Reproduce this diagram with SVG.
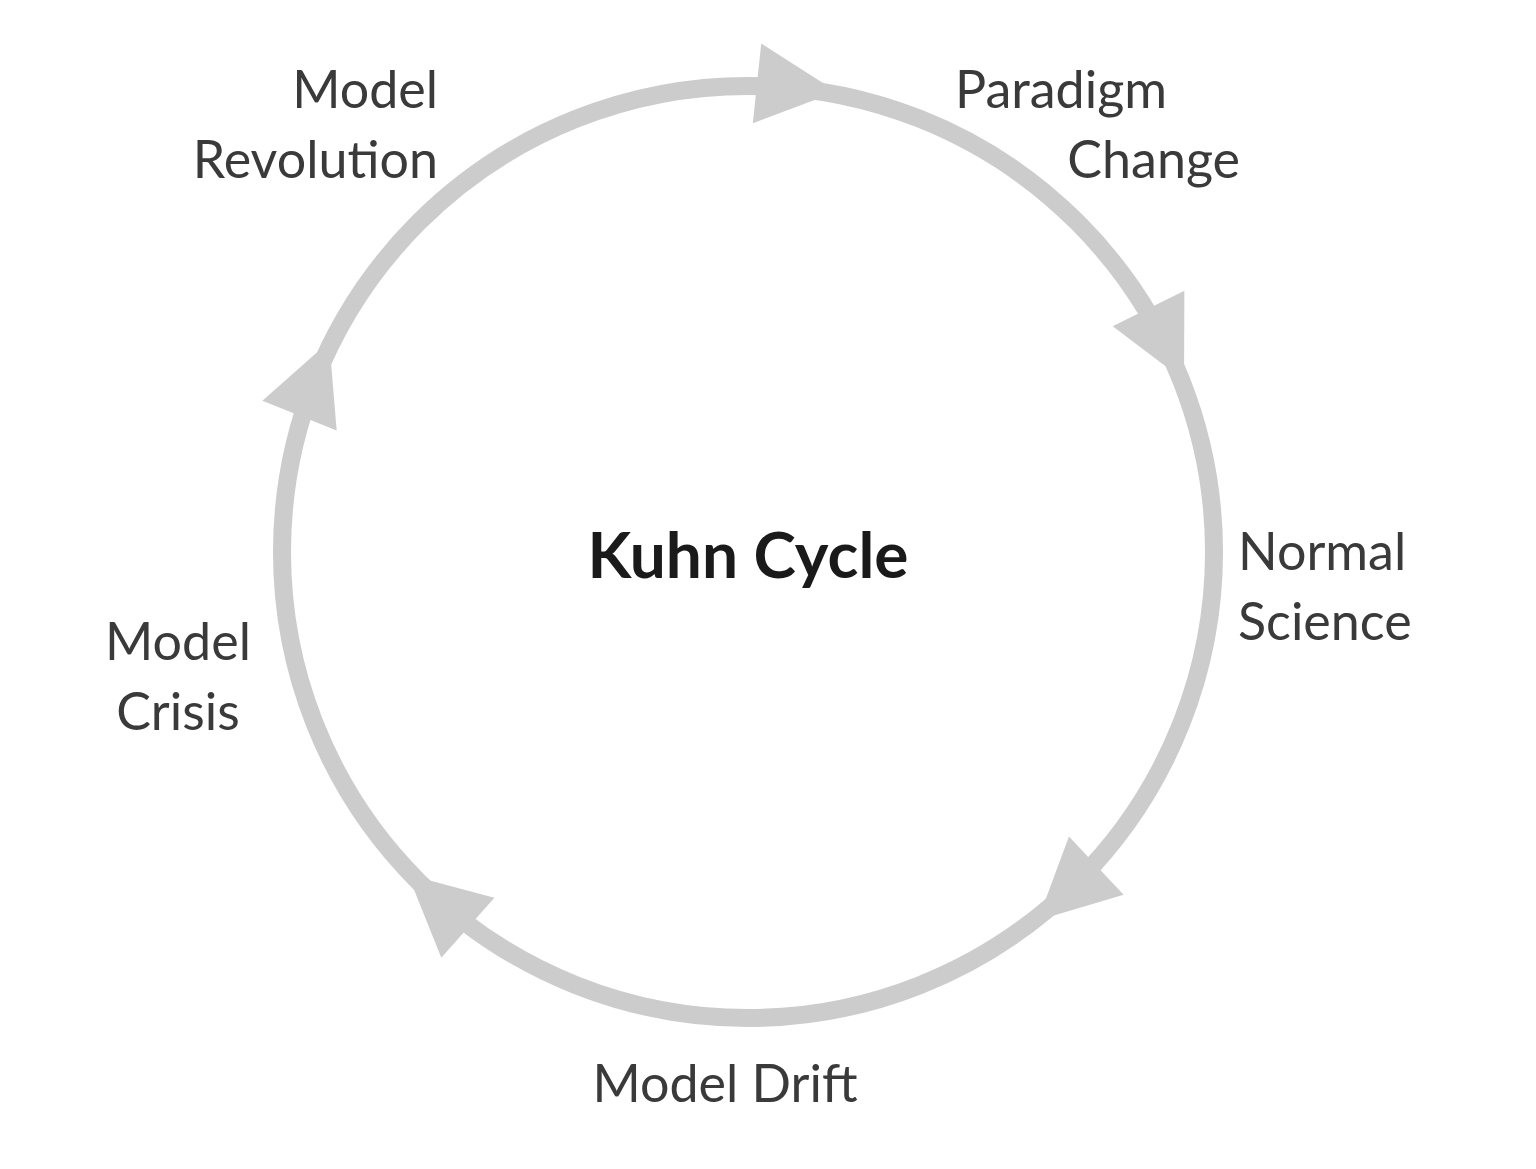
<svg xmlns="http://www.w3.org/2000/svg" width="1536" height="1169" viewBox="0 0 1536 1169">
<style>
.lbl{font-family:Lato,"Liberation Sans",sans-serif;font-size:52px;fill:#3a3a3a}
.title{font-family:Lato,"Liberation Sans",sans-serif;font-size:64px;font-weight:bold;fill:#1a1a1a}
.ah{fill:#cccccc}
</style>
<defs><polygon id="head" points="788,85 708,45 708,125"/></defs>
<rect width="1536" height="1169" fill="#fff"/>
<g id="connectors">
<circle cx="748" cy="552" r="466" fill="none" stroke="#cccccc" stroke-width="18"/>
<use href="#head" class="ah" transform="rotate(6 748 552)"/>
<use href="#head" class="ah" transform="rotate(63.6 748 552)"/>
<use href="#head" class="ah" transform="rotate(136.9 748 552)"/>
<use href="#head" class="ah" transform="rotate(221.6 748 552)"/>
<use href="#head" class="ah" transform="rotate(291.8 748 552)"/>
</g>
<g id="title"><text class="title" x="748" y="578" text-anchor="middle">Kuhn Cycle</text></g>
<g id="revolution"><text class="lbl" x="438" y="108" text-anchor="end">Model</text><text class="lbl" x="438" y="178" text-anchor="end">Revolution</text></g>
<g id="paradigm"><text class="lbl" x="955" y="108">Paradigm</text><text class="lbl" x="1240" y="178" text-anchor="end">Change</text></g>
<g id="normal"><text class="lbl" x="1238" y="570">Normal</text><text class="lbl" x="1238" y="640">Science</text></g>
<g id="crisis"><text class="lbl" x="178" y="660" text-anchor="middle">Model</text><text class="lbl" x="178" y="730" text-anchor="middle">Crisis</text></g>
<g id="drift"><text class="lbl" x="725" y="1102" text-anchor="middle">Model Drift</text></g>
</svg>
